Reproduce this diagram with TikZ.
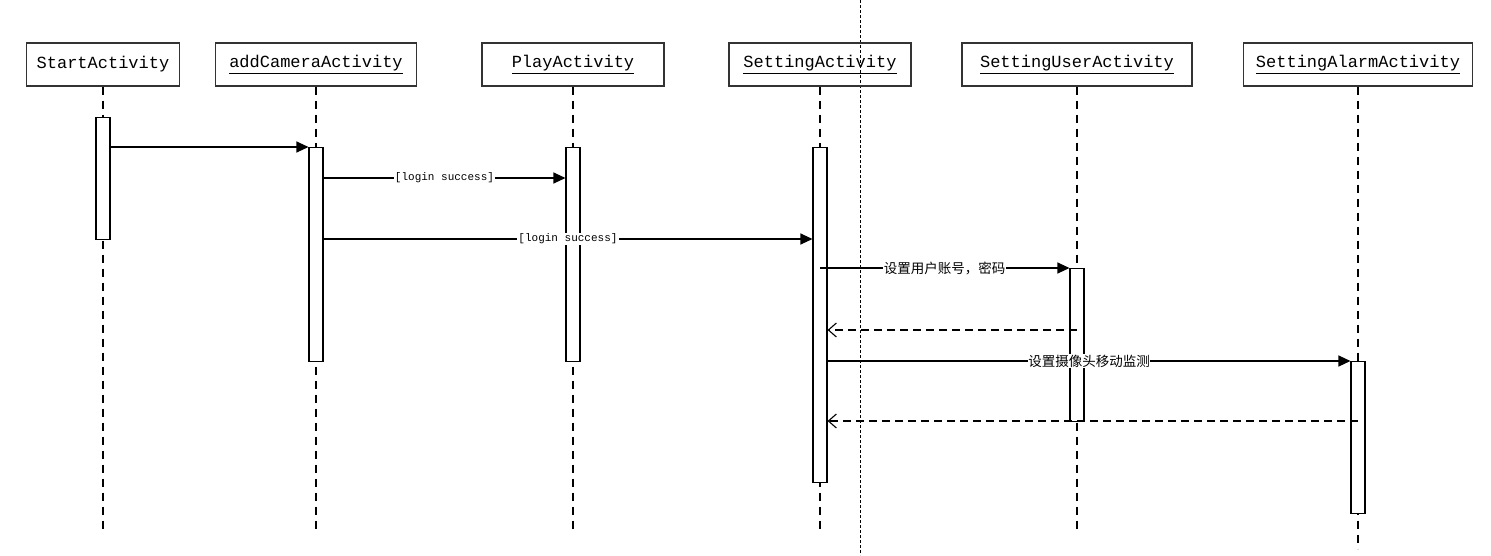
\documentclass[tikz,border=0pt]{standalone}
\usepackage{fontspec}
\setmonofont{Liberation Mono}
\newfontfamily\cjk{Noto Sans CJK SC}
\usetikzlibrary{arrows.meta, positioning}

\begin{document}
\begin{tikzpicture}[
            x=1pt, y=-1pt,
            line join=miter,
            actorbox/.style={shape=rectangle, draw=black!80, line width=1.1pt, minimum height=43pt, inner sep=0pt, font=\fontsize{17}{20}\selectfont\ttfamily},
            actbar/.style={shape=rectangle, draw=black, fill=white, line width=1.1pt, minimum width=14pt, inner sep=0pt, anchor=north},
            lifeline/.style={draw=black, line width=1.1pt, dash pattern=on 8pt off 6pt},
            callmsg/.style={draw=black, line width=1.1pt, -{Triangle[length=12pt, width=11pt]}},
            replymsg/.style={draw=black, line width=1.1pt, dash pattern=on 8pt off 5pt, -{Straight Barb[length=8pt, width=14pt]}},
            msglabel/.style={fill=white, inner sep=1pt, font=\fontsize{11}{13}\selectfont\ttfamily},
            cnlabel/.style={fill=white, inner sep=0.5pt, font=\fontsize{13.5}{15}\selectfont\cjk}
            ]

            \useasboundingbox (0,0) rectangle (1491,555);

            % Page break
            \draw[line width=0.9pt, dash pattern=on 3pt off 2pt] (860,0) -- (860,555);

            % Heads
            \node[actorbox, minimum width=153pt] (start) at (103,64.5) {StartActivity};
            \node[actorbox, minimum width=201pt] (camera) at (316,64.5) {\underline{addCameraActivity}};
            \node[actorbox, minimum width=182pt] (play) at (573,64.5) {\underline{PlayActivity}};
            \node[actorbox, minimum width=182pt] (setting) at (820,64.5) {\underline{SettingActivity}};
            \node[actorbox, minimum width=230pt] (user) at (1077,64.5) {\underline{SettingUserActivity}};
            \node[actorbox, minimum width=229pt] (alarm) at (1358,64.5) {\underline{SettingAlarmActivity}};

            % Lifelines
            \foreach \who/\len in {start/445, camera/445, play/445, setting/445, user/445, alarm/462} {
                \draw[lifeline] (\who.south) -- ++(0,\len);
            }

            % Activations
            \node[actbar, minimum height=122pt] (startbar) at (103,117) {};
            \node[actbar, minimum height=214pt] (camerabar) at (316,147) {};
            \node[actbar, minimum height=214pt] (playbar) at (573,147) {};
            \node[actbar, minimum height=335pt] (settingbar) at (820,147) {};
            \node[actbar, minimum height=153pt] (userbar) at (1077,268) {};
            \node[actbar, minimum height=152pt] (alarmbar) at (1358,361) {};

            % Messages
            \coordinate (m1) at (0,147);
            \coordinate (m2) at (0,178);
            \coordinate (m3) at (0,239);
            \coordinate (m4) at (0,268);
            \coordinate (m5) at (0,330);
            \coordinate (m6) at (0,361);
            \coordinate (m7) at (0,421);

            \draw[callmsg] (startbar.east |- m1) -- (camerabar.west |- m1);
            \draw[callmsg] (camerabar.east |- m2) -- node[msglabel] {[login success]} (playbar.west |- m2);
            \draw[callmsg] (camerabar.east |- m3) -- node[msglabel] {[login success]} (settingbar.west |- m3);
            \draw[callmsg] (settingbar.center |- m4) -- node[cnlabel] {设置用户账号，密码} (userbar.west |- m4);
            \draw[replymsg] (userbar.center |- m5) -- (settingbar.east |- m5);
            \draw[callmsg] (settingbar.east |- m6) -- node[cnlabel] {设置摄像头移动监测} (alarmbar.west |- m6);
            \draw[replymsg] (alarmbar.center |- m7) -- (settingbar.east |- m7);
\end{tikzpicture}
\end{document}
